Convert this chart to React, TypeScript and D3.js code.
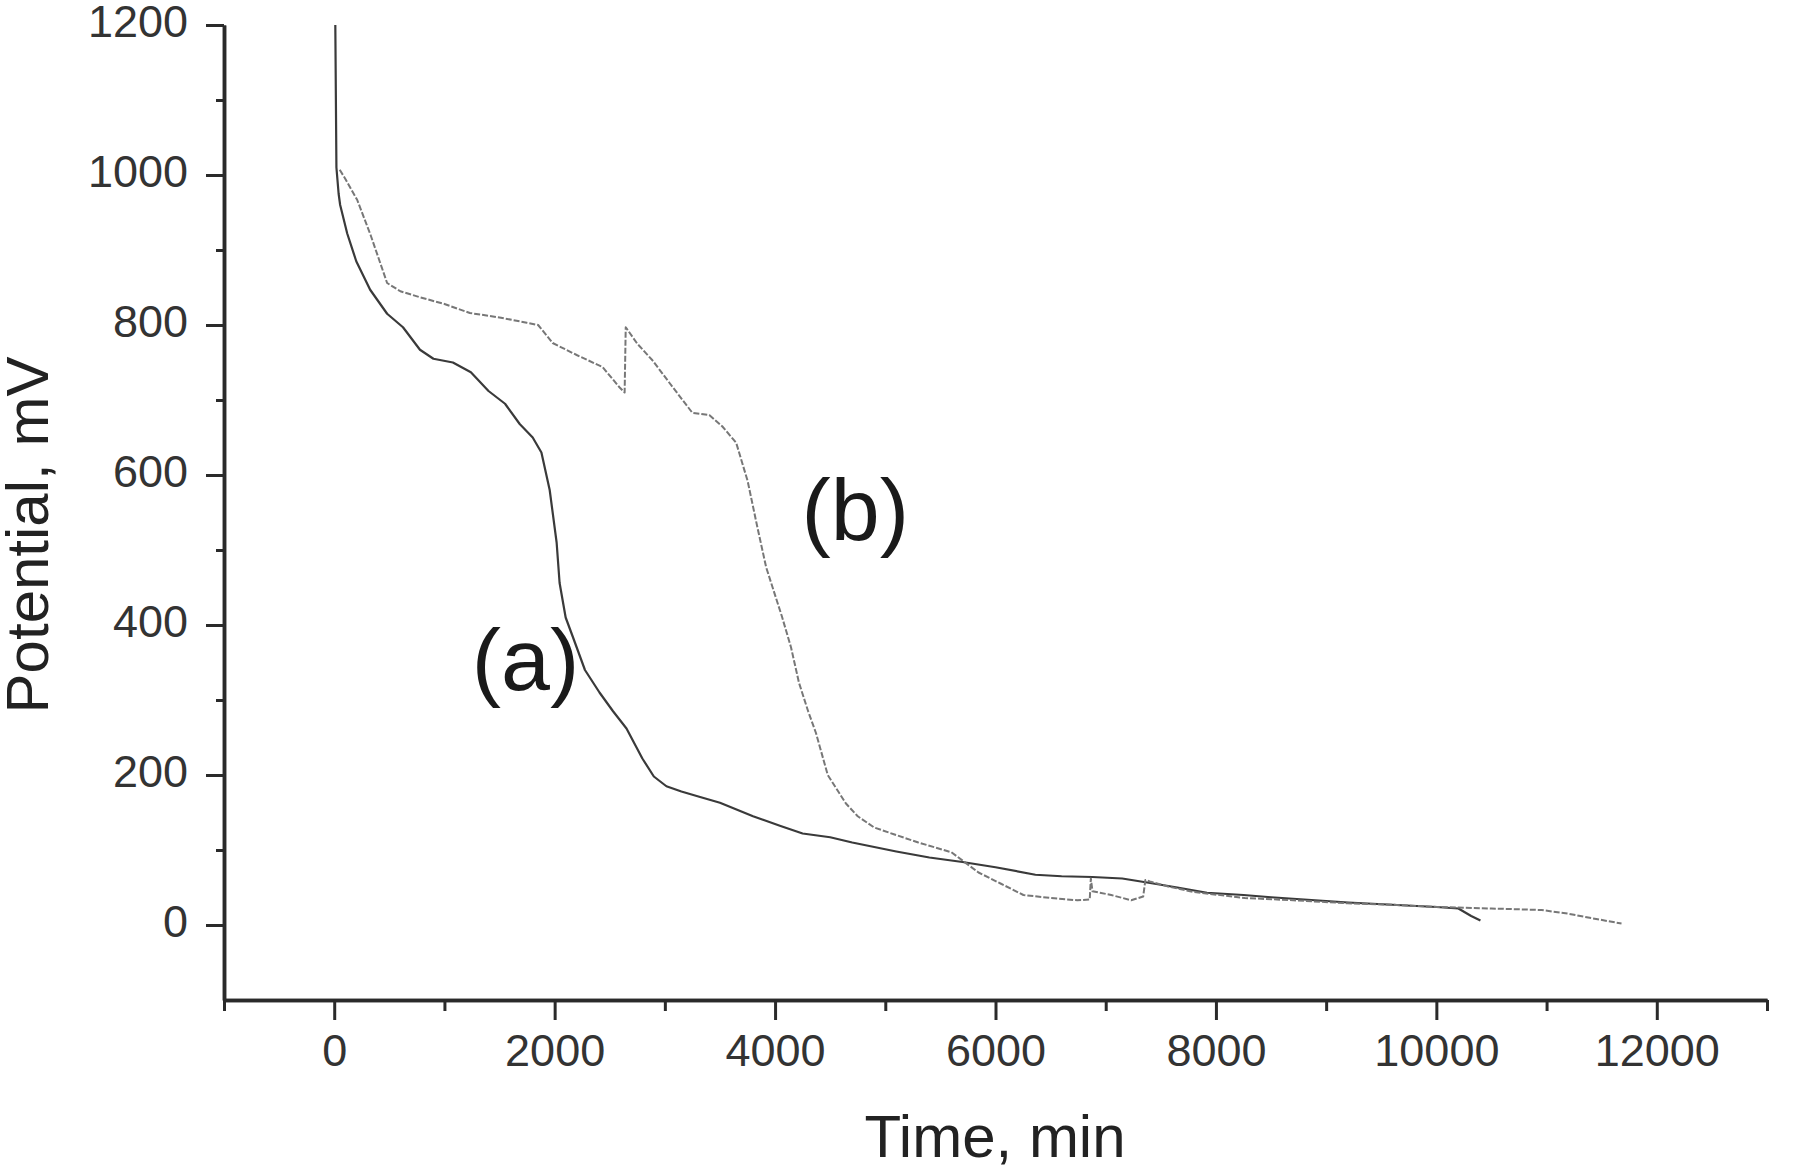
import { useEffect, useRef } from "react";
import * as d3 from "d3";

// curve (a), solid
const timeA = [10, 20, 40, 54, 118, 200, 326, 480, 624, 778, 900, 1077, 1240, 1400, 1550, 1683, 1801, 1880, 1955, 2018, 2045, 2100, 2163, 2275, 2407, 2530, 2652, 2796, 2900, 3014, 3150, 3312, 3500, 3800, 4050, 4250, 4500, 4700, 4900, 5100, 5400, 5700, 6000, 6362, 6600, 6878, 7150, 7403, 7650, 7919, 8250, 8500, 8800, 9200, 9600, 10000, 10200, 10316, 10400];
const potA = [1200, 1010, 975, 960, 922, 885, 847, 815, 797, 767, 755, 750, 737, 712, 695, 668, 650, 630, 580, 510, 456, 410, 385, 340, 310, 285, 262, 222, 198, 185, 178, 171, 163, 145, 132, 122, 117, 110, 104, 98, 90, 84, 77, 67, 65, 64, 62, 56, 50, 43, 40, 37, 34, 30, 27, 24, 22, 12, 6];

// curve (b), dotted
const timeB = [50, 100, 208, 330, 480, 600, 778, 1000, 1231, 1500, 1747, 1850, 1982, 2200, 2434, 2588, 2635, 2645, 2750, 2887, 3041, 3249, 3403, 3520, 3647, 3751, 3840, 3919, 4063, 4145, 4217, 4300, 4371, 4478, 4643, 4750, 4900, 5077, 5300, 5600, 5846, 6050, 6253, 6500, 6742, 6855, 6865, 6880, 7050, 7231, 7340, 7360, 7400, 7575, 7800, 8262, 8700, 9195, 9600, 10009, 10500, 10955, 11200, 11450, 11680];
const potB = [1007, 995, 967, 920, 856, 845, 837, 828, 816, 810, 803, 800, 776, 760, 744, 717, 710, 797, 775, 753, 723, 683, 680, 665, 643, 592, 530, 477, 411, 370, 323, 285, 256, 200, 162, 145, 130, 121, 110, 97, 70, 55, 40, 36, 33, 34, 62, 45, 40, 33, 38, 60, 58, 51, 44, 36, 33, 29, 27, 24, 22, 20, 15, 8, 2];

const xMajor = [0, 2000, 4000, 6000, 8000, 10000, 12000];
const xMinor = [-1000, 1000, 3000, 5000, 7000, 9000, 11000, 13000];
const yMajor = [0, 200, 400, 600, 800, 1000, 1200];
const yMinor = [100, 300, 500, 700, 900, 1100];

const curveLabels = [
    { text: "(a)", t: 1735, v: 313 },
    { text: "(b)", t: 4728, v: 513 },
];

const W = 1800;
const H = 1171;
const font = "'Liberation Sans', Arial, sans-serif";
const ink = "#2a2a2a";

export default function App() {
    const ref = useRef<SVGGElement>(null);

    const x = d3.scaleLinear().domain([-1000, 13000]).range([224, 1767]);
    const y = d3.scaleLinear().domain([-100, 1200]).range([1000, 25]);

    const pathA = d3.line<number>().x((d) => x(d)).y((_d, i) => y(potA[i]))(timeA);
    const pathB = d3.line<number>().x((d) => x(d)).y((_d, i) => y(potB[i]))(timeB);

    useEffect(() => {
        const g = d3.select(ref.current);
        g.selectAll("*").remove();

        const xBase = `translate(0,${y(-100)})`;
        const yBase = `translate(${x(-1000)},0)`;

        // minor ticks in their own groups so the major axis call keeps them
        g.append("g").attr("transform", xBase)
            .call(d3.axisBottom(x).tickValues(xMinor).tickSize(11).tickSizeOuter(0).tickFormat(() => ""));
        g.append("g").attr("transform", yBase)
            .call(d3.axisLeft(y).tickValues(yMinor).tickSize(8).tickSizeOuter(0).tickFormat(() => ""));

        g.append("g").attr("transform", xBase)
            .call(d3.axisBottom(x).tickValues(xMajor).tickSize(20).tickSizeOuter(0).tickPadding(14).tickFormat(d3.format("d")));
        const yg = g.append("g").attr("transform", yBase);
        yg.call(d3.axisLeft(y).tickValues(yMajor).tickSize(18).tickSizeOuter(0).tickPadding(18).tickFormat(d3.format("d")));

        g.selectAll(".domain").attr("stroke", ink).attr("stroke-width", 3.5);
        g.selectAll(".tick line").attr("stroke", ink).attr("stroke-width", 3);
        g.selectAll(".tick text")
            .attr("fill", "#333")
            .style("font-family", font)
            .style("font-size", "45px");
        yg.selectAll(".tick text").attr("dy", "0.26em");
    }, []);

    return (
        <svg width={W} height={H} style={{ position: "absolute", left: 0, top: 0, background: "#fff" }}>
            <rect width={W} height={H} fill="#fff" />
            <path d={String(pathA)} fill="none" stroke="#3a3a3a" strokeWidth={2.2} strokeLinejoin="round" />
            <path d={String(pathB)} fill="none" stroke="#777" strokeWidth={2} strokeDasharray="6 2" strokeLinejoin="round" />
            <g ref={ref} />
            {curveLabels.map((c) => (
                <text key={c.text} x={x(c.t)} y={y(c.v)} textAnchor="middle" fontFamily={font} fontSize={88} fill="#1a1a1a">
                    {c.text}
                </text>
            ))}
            <text x={995} y={1157} textAnchor="middle" fontFamily={font} fontSize={60} fill="#222">
                Time, min
            </text>
            <text transform={`translate(48,535) rotate(-90)`} textAnchor="middle" fontFamily={font} fontSize={60} fill="#222">
                Potential, mV
            </text>
        </svg>
    );
}
